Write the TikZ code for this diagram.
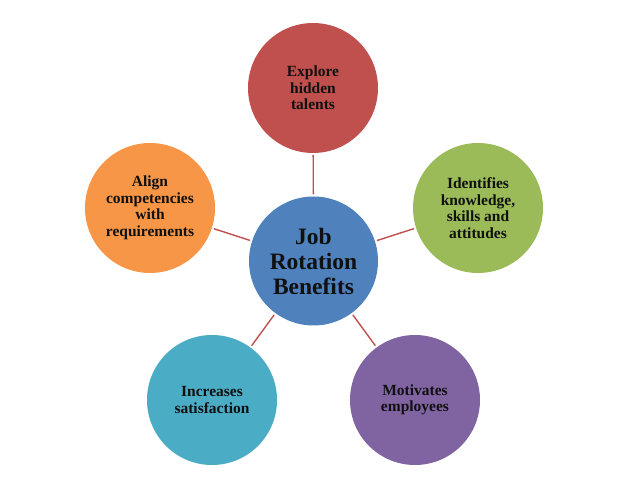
\documentclass[tikz,border=0pt]{standalone}
\usepackage{fontspec}
\setmainfont{Liberation Serif}
\definecolor{cred}{HTML}{C0504D}
\definecolor{cgreen}{HTML}{9BBB59}
\definecolor{corange}{HTML}{F79646}
\definecolor{cblue}{HTML}{4F81BD}
\definecolor{cteal}{HTML}{4BACC6}
\definecolor{cpurple}{HTML}{8064A2}
\definecolor{ctext}{HTML}{101010}
\begin{document}
\begin{tikzpicture}[x=1pt,y=-1pt,
  outer/.style={circle,minimum size=130pt,inner sep=0pt,align=center,
    text=ctext,font=\fontsize{15.5}{16.5}\selectfont\bfseries},
  hub/.style={circle,minimum size=129pt,inner sep=0pt,align=center,fill=cblue,
    text=ctext,font=\fontsize{23.5}{25}\selectfont\bfseries},
  link/.style={draw=cred,line width=1.4pt,shorten <=2pt,shorten >=2pt}]
\useasboundingbox (0,0) rectangle (638,478);
\node[hub] (c) at (313.5,261) {Job\\Rotation\\Benefits};
\node[outer,fill=cred] (t) at (313,88) {Explore\\hidden\\talents};
\node[outer,fill=cgreen] (r) at (478,208) {Identifies\\knowledge,\\skills and\\attitudes};
\node[outer,fill=corange] (l) at (150,208) {Align\\competencies\\with\\requirements};
\node[outer,fill=cteal] (bl) at (212,400) {Increases\\satisfaction};
\node[outer,fill=cpurple] (br) at (415,400) {Motivates\\employees};
\foreach \n in {t,r,l,bl,br} \draw[link] (c) -- (\n);
\end{tikzpicture}
\end{document}
